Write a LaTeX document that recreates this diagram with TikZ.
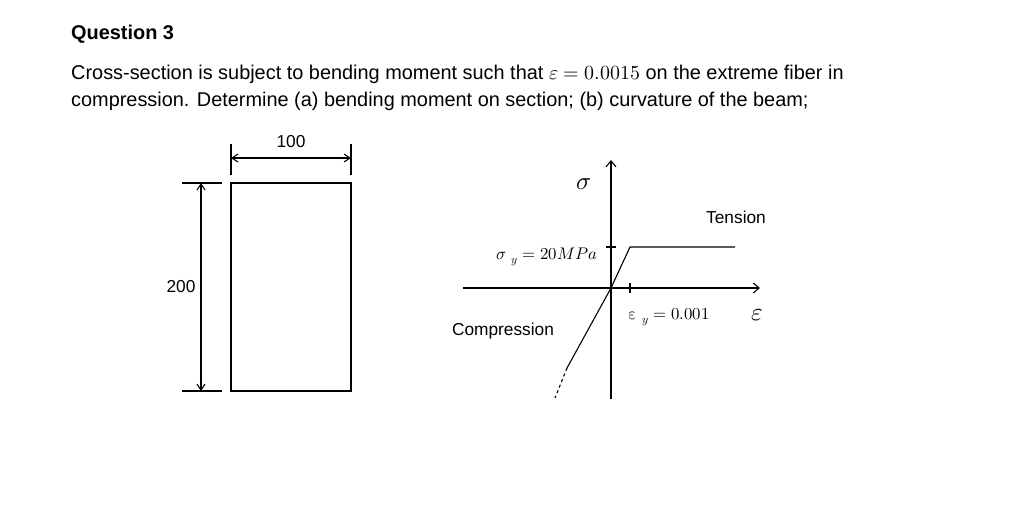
\documentclass[tikz,border=0pt]{standalone}
\usepackage{fontspec}
\setmainfont{Liberation Sans}
\usepackage{unicode-math}
\setmathfont{Latin Modern Math}
\usetikzlibrary{arrows.meta}
\begin{document}
\begin{tikzpicture}[x=1pt,y=-1pt,
  thin line/.style={line width=1.1pt},
  dimarrow/.style={thin line,{Straight Barb[length=6pt,width=8pt]}-{Straight Barb[length=6pt,width=8pt]}},
  lbl/.style={inner sep=0pt,font=\fontsize{17.3}{20}\selectfont},
  body/.style={inner sep=0pt,anchor=west,font=\fontsize{19.9}{24}\selectfont}]
\useasboundingbox (0,0) rectangle (1024,515);
\node[body,font=\fontsize{19.9}{24}\selectfont\bfseries] (title) at (71,34) {Question 3};
\node[body] (l1) at (71,74) {Cross-section is subject to bending moment such that $\varepsilon=0.0015$ on the extreme fiber in};
\node[body] (l2) at (71,101) {compression. Determine (a) bending moment on section; (b) curvature of the beam;};
% section
\draw[line width=2.4pt] (231,183) rectangle (351,391);
\coordinate (t1) at (231,144); \coordinate (t1b) at (231,175);
\coordinate (t2) at (351,144); \coordinate (t2b) at (351,175);
\draw[thin line] (t1) -- (t1b); \draw[thin line] (t2) -- (t2b);
\coordinate (d1) at (231,158); \coordinate (d2) at (351,158);
\draw[dimarrow] (d1) -- (d2);
\node[lbl] (w) at (291,142) {100};
\coordinate (h1) at (182,183); \coordinate (h1b) at (222,183);
\coordinate (h2) at (182,391); \coordinate (h2b) at (222,391);
\draw[thin line] (h1) -- (h1b); \draw[thin line] (h2) -- (h2b);
\coordinate (e1) at (201,183); \coordinate (e2) at (201,391);
\draw[dimarrow] (e1) -- (e2);
\node[lbl] (h) at (181,287) {200};
% graph
\coordinate (O) at (611,288);
\coordinate (ybot) at (611,399); \coordinate (ytop) at (611,160);
\coordinate (xl) at (463,288); \coordinate (xr) at (760,288);
\draw[thin line,-{Straight Barb[length=6pt,width=10pt]}] (ybot) -- (ytop);
\draw[thin line,-{Straight Barb[length=6pt,width=10pt]}] (xl) -- (xr);
\coordinate (yt1) at (606,247); \coordinate (yt2) at (616,247);
\draw[thin line] (yt1) -- (yt2);
\coordinate (xt1) at (630,283); \coordinate (xt2) at (630,293);
\draw[thin line] (xt1) -- (xt2);
\coordinate (Y) at (630,247); \coordinate (P) at (735,247);
\coordinate (C) at (567,368); \coordinate (D) at (555,398);
\draw[thin line] (P) -- (Y) -- (O) -- (C);
\draw[thin line,dash pattern=on 3pt off 3pt] (C) -- (D);
\node[inner sep=0pt,font=\fontsize{25}{28}\selectfont] (sig) at (584,184) {$\sigma$};
\node[inner sep=0pt,font=\fontsize{25}{28}\selectfont] (eps) at (757,315) {$\varepsilon$};
\node[lbl] (ten) at (736,217) {Tension};
\node[lbl] (comp) at (503,331) {Compression};
\node[inner sep=0pt,font=\fontsize{16.8}{20}\selectfont] (sy) at (547,257) {$\sigma_{\ y}=20MPa$};
\node[inner sep=0pt,font=\fontsize{16.8}{20}\selectfont] (ey) at (669,317) {$\upvarepsilon_{\ y}=0.001$};
\end{tikzpicture}
\end{document}
